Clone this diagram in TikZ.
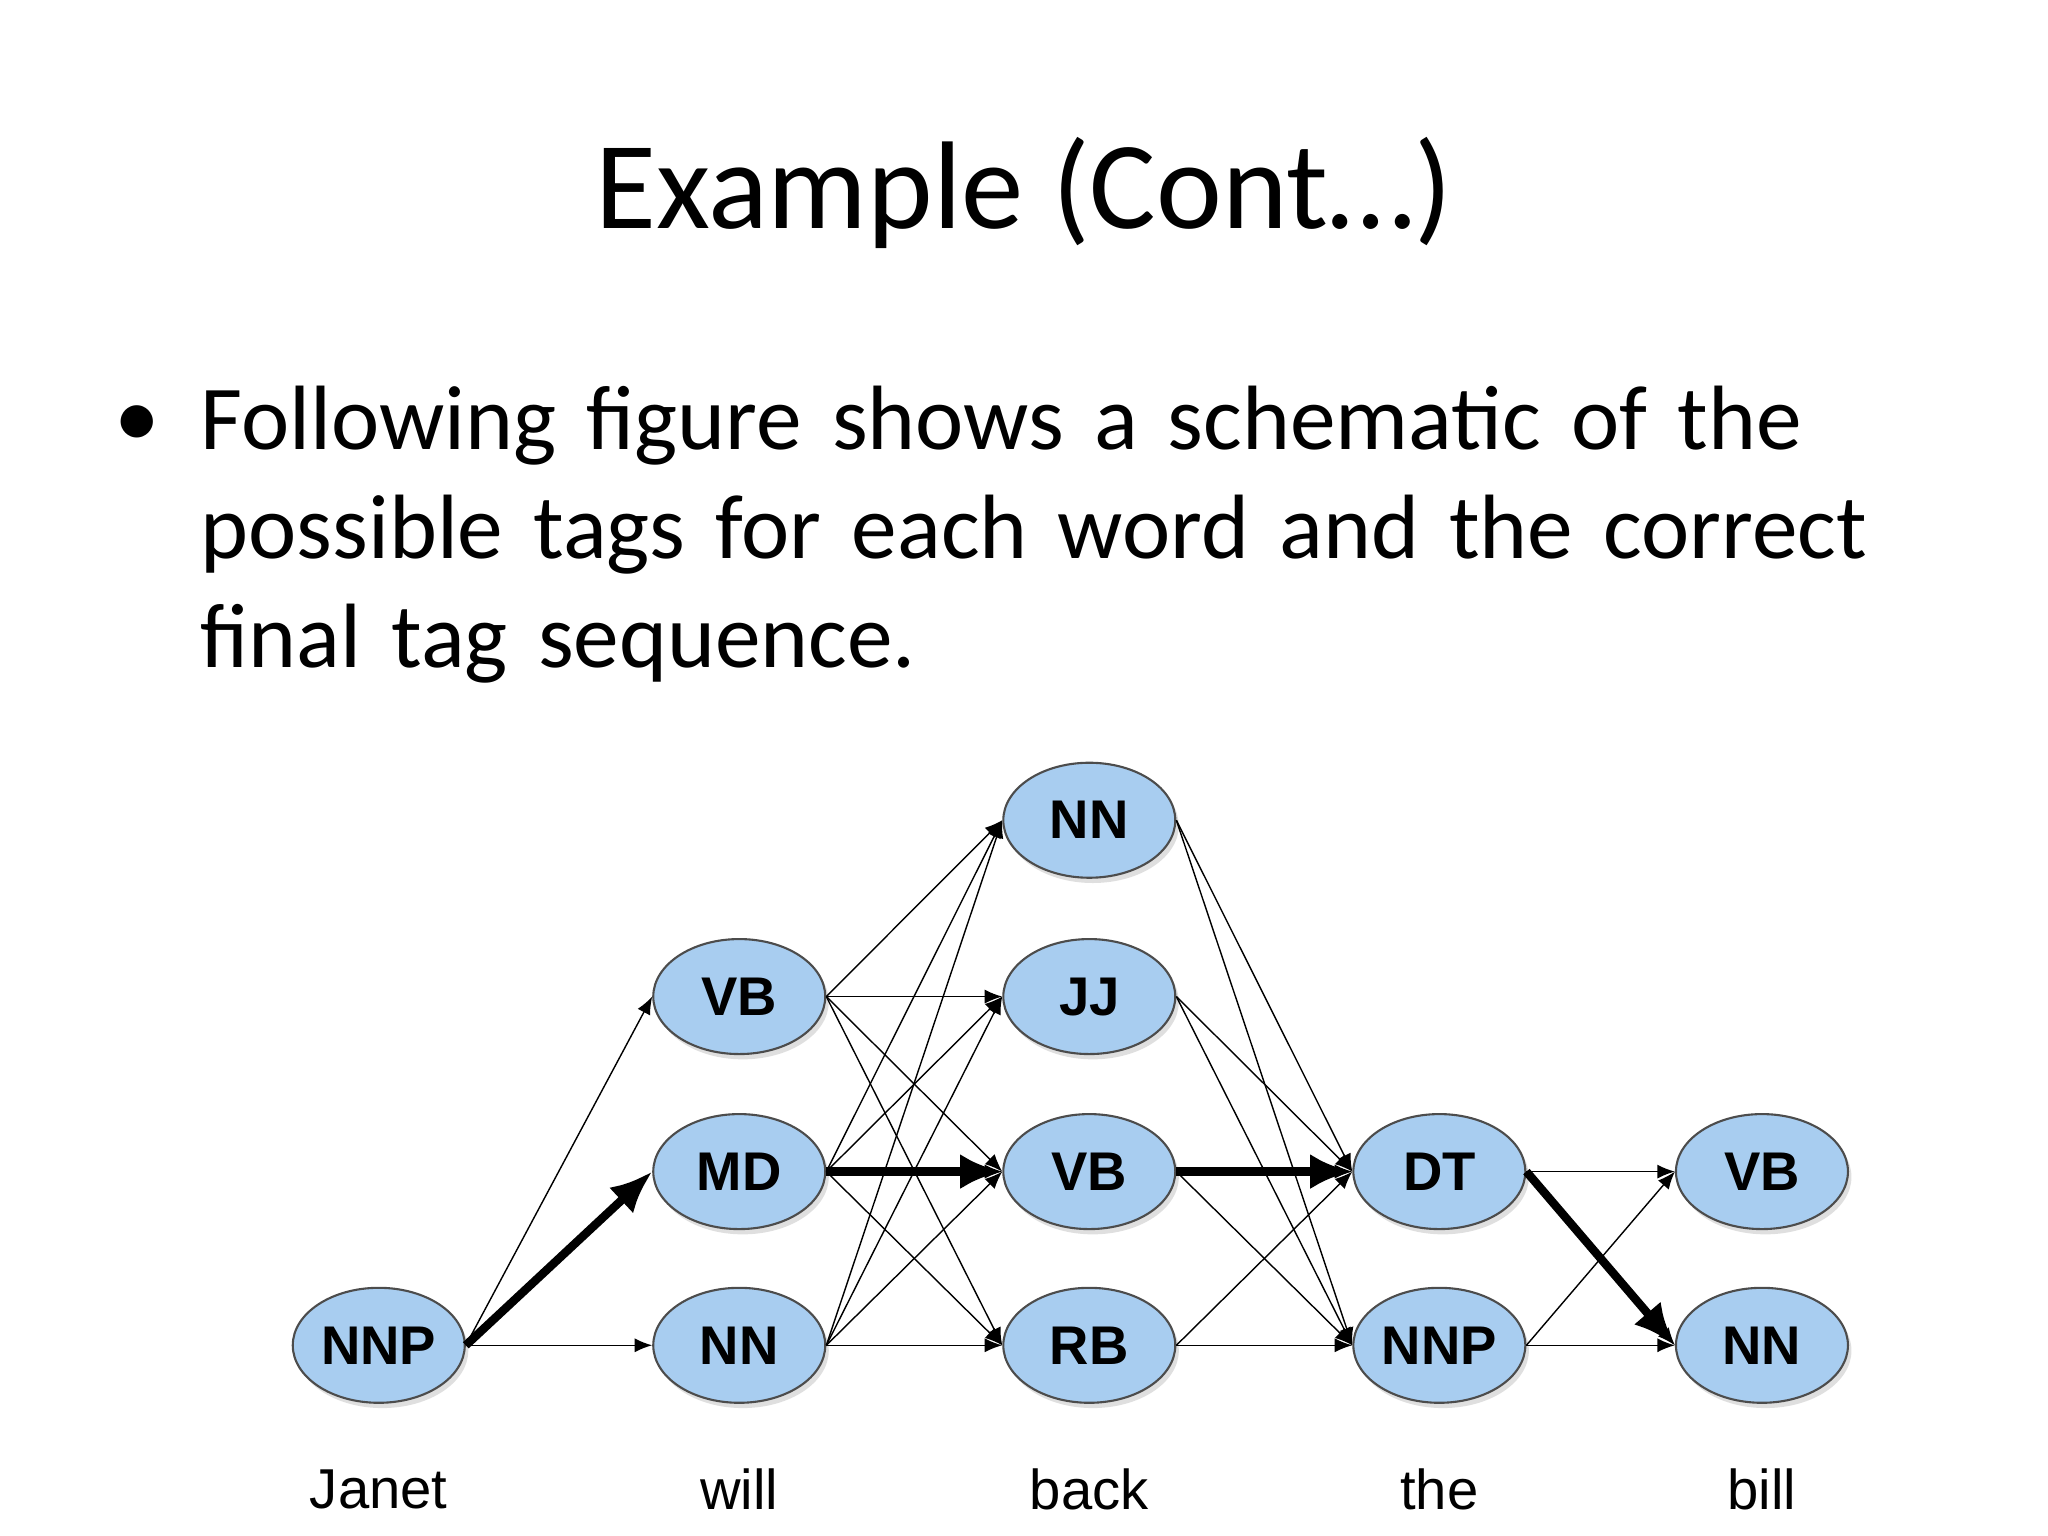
\documentclass[tikz,border=0pt]{standalone}
\usepackage{fontspec}
\setmainfont{Carlito}
\newfontfamily\tagfont{Liberation Sans}
\usetikzlibrary{shapes.geometric,arrows.meta,shadows}
\definecolor{tagblue}{HTML}{A8CDF0}
\begin{document}
\begin{tikzpicture}[x=0.01306cm,y=-0.01306cm,
    tag/.style={ellipse,draw=black!70,fill=tagblue,line width=0.6pt,
      minimum width=1.72cm,minimum height=1.15cm,inner sep=0pt,
      font=\tagfont\fontsize{15.5}{17}\selectfont\bfseries,
      drop shadow={shadow xshift=1pt,shadow yshift=-1.5pt,fill=black!25}},
    word/.style={font=\tagfont\fontsize{16}{18}\selectfont},
    arc/.style={-{Latex[length=5pt,width=4pt]},line width=0.4pt},
    best/.style={-{Latex[length=12pt,width=10pt]},line width=2.4pt}]
  \useasboundingbox (0,0) rectangle (1568,1176);

  % title and text
  \node (title) at (784,148) {\fontsize{35.5}{42}\selectfont Example (Cont…)};
  \node (dot) at (105,327) {\fontsize{26}{31}\selectfont •};
  \node[anchor=north west,inner sep=0pt,text width=1300*0.01306cm,align=left,
    font=\fontsize{26}{31}\selectfont]
    (text) at (153,295) {\spaceskip=0.33em\relax Following figure shows a schematic of the\\
    possible tags for each word and the correct\\
    final tag sequence.};

  % tag lattice
  \node[tag] (nnp1) at (290,1030) {NNP};
  \node[tag] (vb2) at (566,763) {VB};
  \node[tag] (md2) at (566,897) {MD};
  \node[tag] (nn2) at (566,1030) {NN};
  \node[tag] (nn3) at (834,628) {NN};
  \node[tag] (jj3) at (834,763) {JJ};
  \node[tag] (vb3) at (834,897) {VB};
  \node[tag] (rb3) at (834,1030) {RB};
  \node[tag] (dt4) at (1102,897) {DT};
  \node[tag] (nnp4) at (1102,1030) {NNP};
  \node[tag] (vb5) at (1349,897) {VB};
  \node[tag] (nn5) at (1349,1030) {NN};

  % words
  \node[word] (w1) at (290,1140) {Janet};
  \node[word] (w2) at (566,1140) {will};
  \node[word] (w3) at (834,1140) {back};
  \node[word] (w4) at (1102,1140) {the};
  \node[word] (w5) at (1349,1140) {bill};

  % edges
  \draw[arc] (nnp1.east) -- (vb2.west);
  \draw[arc] (nnp1.east) -- (nn2.west);
  \foreach \a in {vb2,md2,nn2}
    \foreach \b in {nn3,jj3,vb3,rb3}
      \draw[arc] (\a.east) -- (\b.west);
  \foreach \a in {nn3,jj3,vb3,rb3}
    \foreach \b in {dt4,nnp4}
      \draw[arc] (\a.east) -- (\b.west);
  \foreach \a in {dt4,nnp4}
    \foreach \b in {vb5,nn5}
      \draw[arc] (\a.east) -- (\b.west);

  % best path
  \draw[best] (nnp1.east) -- (md2.west);
  \draw[best] (md2.east) -- (vb3.west);
  \draw[best] (vb3.east) -- (dt4.west);
  \draw[best] (dt4.east) -- (nn5.west);
\end{tikzpicture}
\end{document}
